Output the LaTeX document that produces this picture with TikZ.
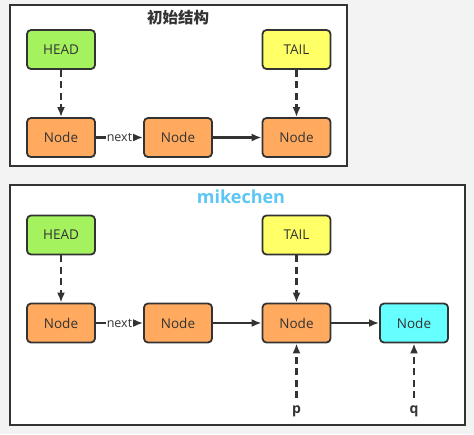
\documentclass[tikz,border=0pt]{standalone}
\usepackage{fontspec}
\setmainfont{Open Sans}
\newfontfamily\cjk{Noto Sans CJK SC}
\usepackage{tikz}
\usetikzlibrary{arrows.meta}
\usepackage{xcolor}

\definecolor{bggray}{HTML}{F3F3F3}
\definecolor{edgegray}{HTML}{333333}
\definecolor{headgreen}{HTML}{A3F25E}
\definecolor{tailyellow}{HTML}{FFFF66}
\definecolor{nodeorange}{HTML}{FFAA5E}
\definecolor{nodecyan}{HTML}{66FFFF}
\definecolor{markblue}{HTML}{5CC6F5}

\begin{document}
\begin{tikzpicture}[x=1pt, y=-1pt,
  box/.style={draw=edgegray, line width=1.8pt, rounded corners=4pt,
              minimum width=68pt, minimum height=39pt, inner sep=0pt,
              text=edgegray, font=\fontsize{13.5}{15}\selectfont},
  frame/.style={draw=edgegray, line width=2pt, fill=white},
  link/.style={draw=edgegray, line width=2.2pt, -{Latex[length=10pt,width=8pt]}},
  ptr/.style={link, dash pattern=on 7pt off 4.5pt}]

% background and the two frames
\useasboundingbox[fill=bggray] (0,0) rectangle (474,434);
\draw[frame] (10,5) rectangle (347,166);
\draw[frame] (10,185) rectangle (465,425);

% ---- initial structure
\node[font=\cjk\bfseries\fontsize{15.5}{17}\selectfont, text=edgegray] (title) at (178,18) {初始结构};

\node[box, fill=headgreen]  (head1) at (61,49.5)  {HEAD};
\node[box, fill=tailyellow] (tail1) at (296.5,49.5) {TAIL};
\node[box, fill=nodeorange] (a1) at (61,137.5)  {Node};
\node[box, fill=nodeorange] (b1) at (178,137.5) {Node};
\node[box, fill=nodeorange] (c1) at (296.5,137.5) {Node};

\draw[ptr] (head1) -- (a1);
\draw[ptr] (tail1) -- (c1);
\draw[link] (a1) -- node[fill=white, inner sep=1pt, text=edgegray, font=\fontsize{12.5}{14}\selectfont] (next1) {next} (b1);
\draw[link] (b1) -- (c1);

% ---- after appending q
\node[font=\bfseries\fontsize{18}{20}\selectfont, text=markblue] (mark) at (241,197) {mikechen};

\node[box, fill=headgreen]  (head2) at (61,235)  {HEAD};
\node[box, fill=tailyellow] (tail2) at (296.5,235) {TAIL};
\node[box, fill=nodeorange] (a2) at (61,323)  {Node};
\node[box, fill=nodeorange] (b2) at (178,323) {Node};
\node[box, fill=nodeorange] (c2) at (296.5,323) {Node};
\node[box, fill=nodecyan]   (d2) at (414,323) {Node};

\node[font=\bfseries\fontsize{14}{16}\selectfont, text=edgegray, inner sep=1pt] (p) at (296.5,411) {p};
\node[font=\bfseries\fontsize{14}{16}\selectfont, text=edgegray, inner sep=1pt] (q) at (414,411) {q};

\draw[ptr] (head2) -- (a2);
\draw[ptr] (tail2) -- (c2);
\draw[link] (a2) -- node[fill=white, inner sep=1pt, text=edgegray, font=\fontsize{12.5}{14}\selectfont] (next2) {next} (b2);
\draw[link] (b2) -- (c2);
\draw[link] (c2) -- (d2);
\draw[ptr, shorten <=6pt] (p) -- (c2);
\draw[ptr, shorten <=6pt] (q) -- (d2);

\end{tikzpicture}
\end{document}
